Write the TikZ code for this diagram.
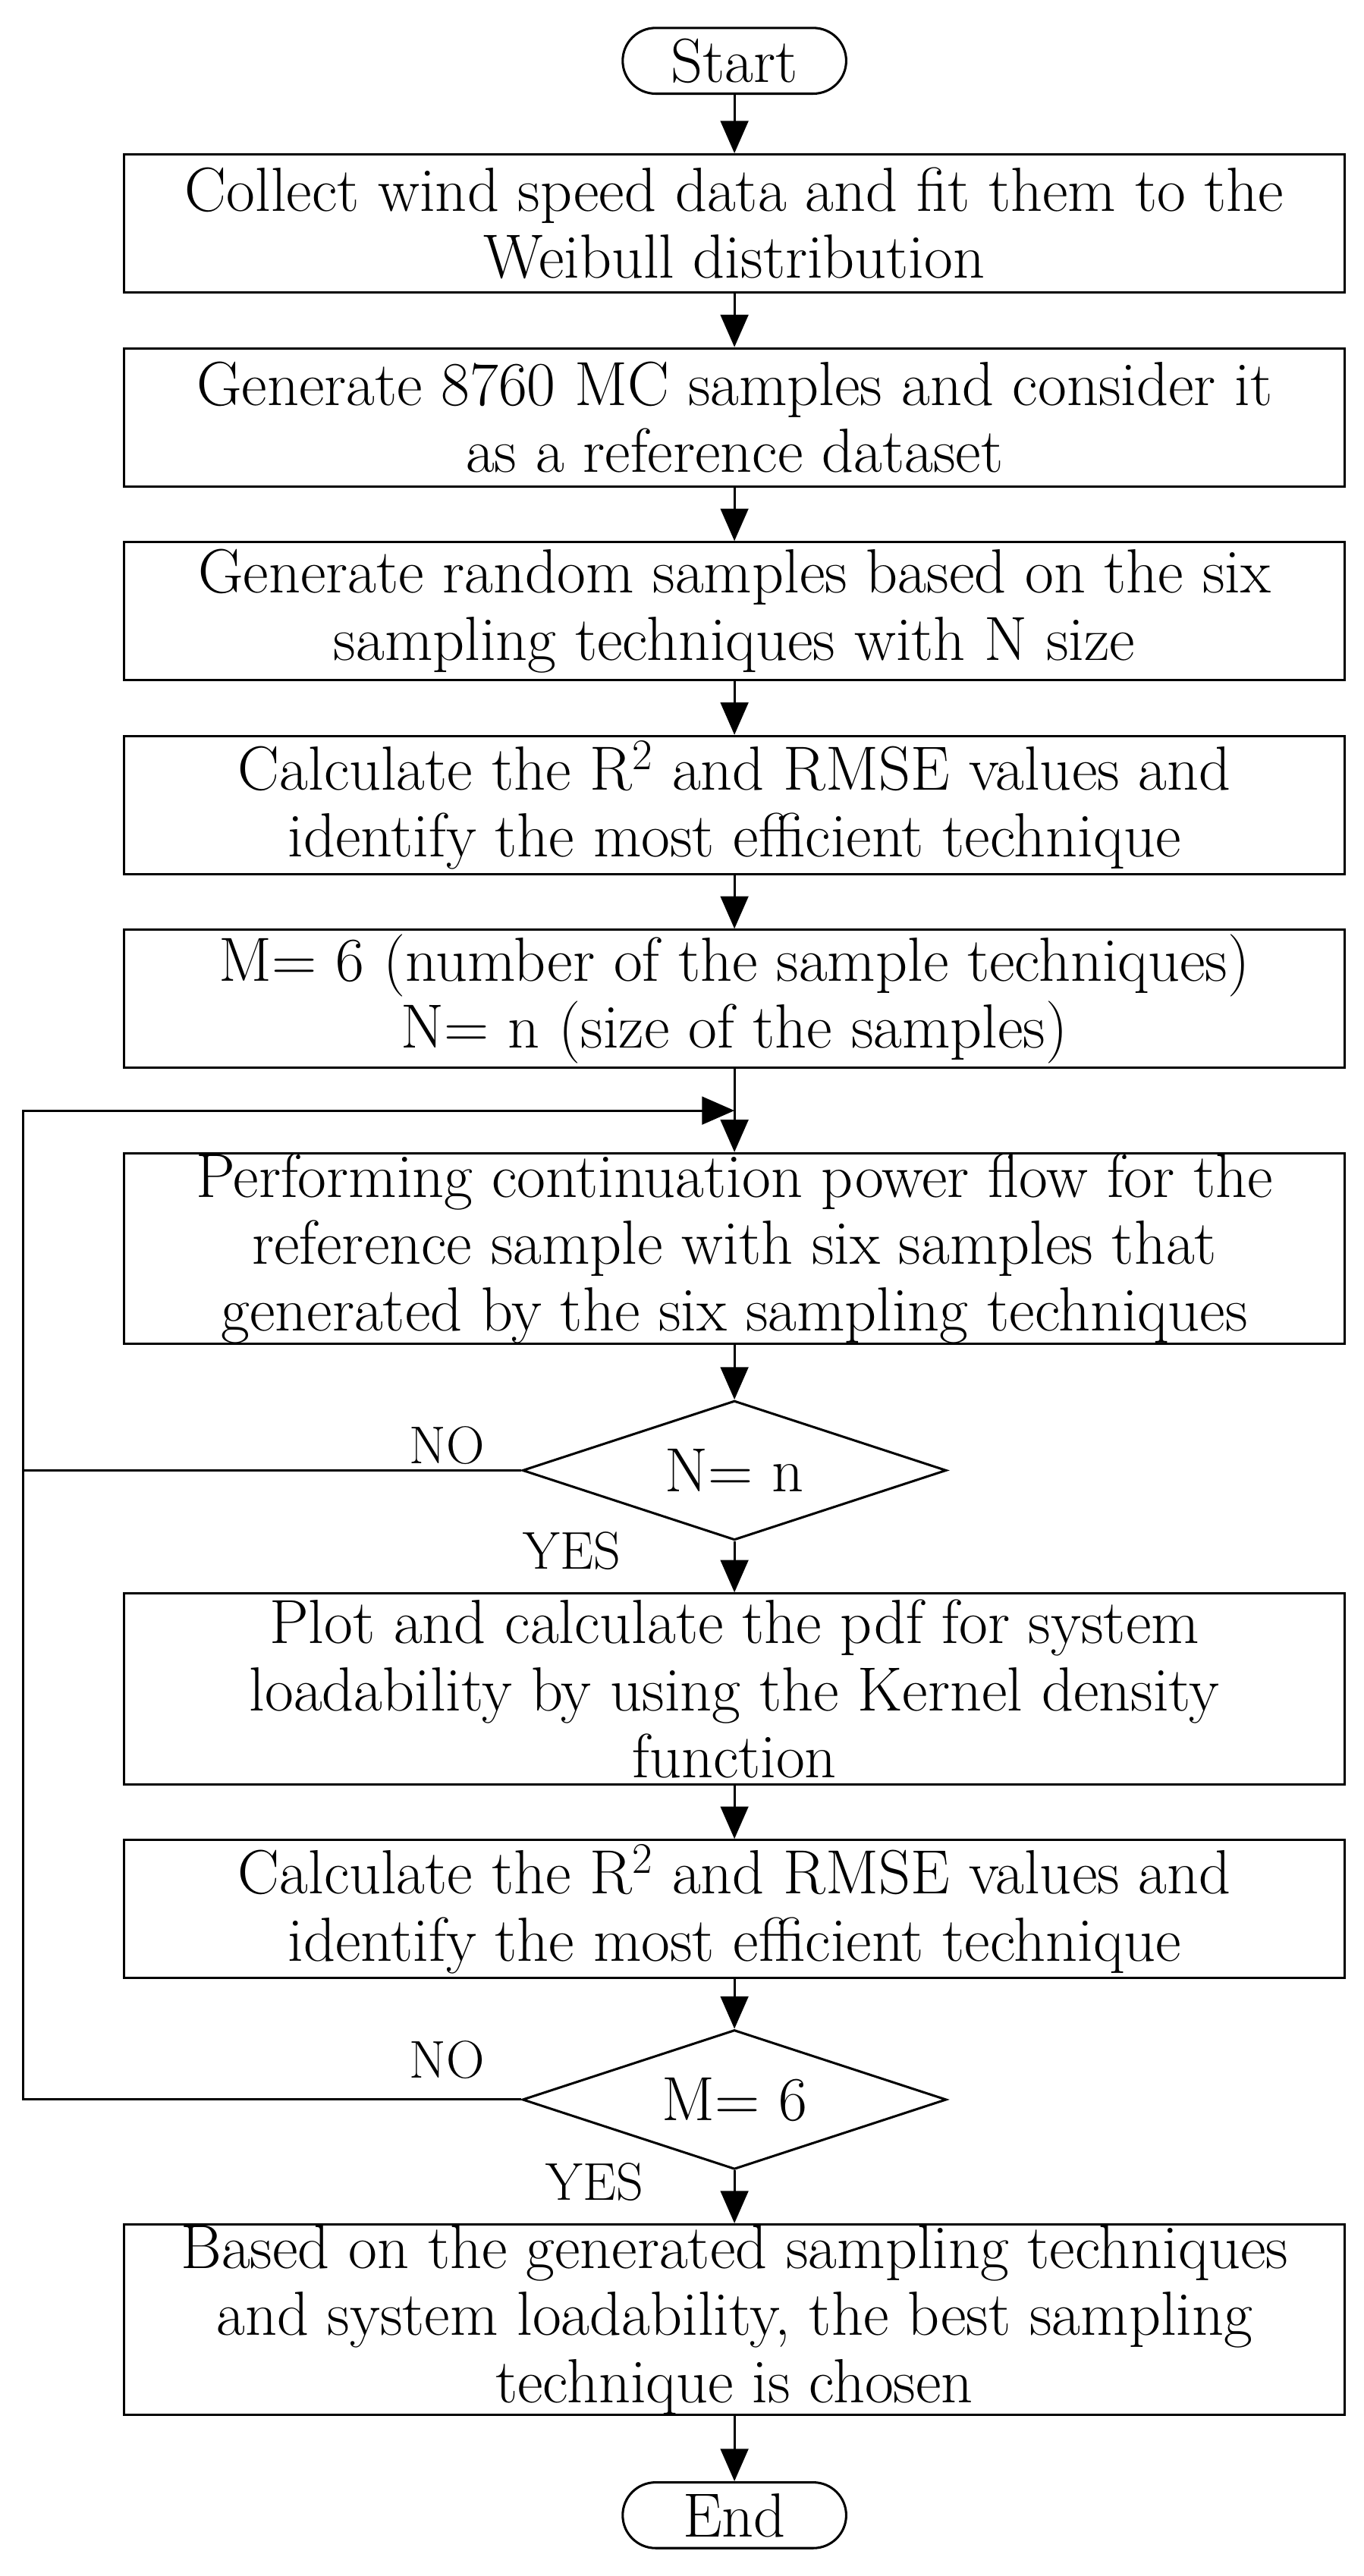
\documentclass[tikz,border=0pt]{standalone}
\usetikzlibrary{shapes.geometric,arrows.meta}
\begin{document}
\begin{tikzpicture}[x=0.025cm,y=-0.025cm,
  font=\fontsize{27}{29}\selectfont,
  >={Triangle[length=14pt,width=12pt]},
  box/.style={draw,line width=1pt,minimum width=18.575cm,align=center,inner sep=0pt},
  term/.style={draw,line width=1pt,rounded corners=0.5cm,minimum width=3.4cm,minimum height=1cm,inner sep=0pt},
  dec/.style={draw,line width=1pt,diamond,aspect=3,minimum width=6.45cm,minimum height=2.12cm,inner sep=0pt},
  lbl/.style={font=\fontsize{23}{26}\selectfont},
  line/.style={line width=1pt}]
\useasboundingbox (0,0) rectangle (830,1568);
\node[term] (start) at (447,37) {Start};
\node[box,minimum height=2.1cm] (b1) at (447,136) {Collect wind speed data and fit them to the\\ Weibull distribution};
\node[box,minimum height=2.1cm] (b2) at (447,254) {Generate 8760 MC samples and consider it\\ as a reference dataset};
\node[box,minimum height=2.1cm] (b3) at (447,372) {Generate random samples based on the six\\ sampling techniques with N size};
\node[box,minimum height=2.1cm] (b4) at (447,490) {Calculate the R\textsuperscript{2} and RMSE values and\\ identify the most efficient technique};
\node[box,minimum height=2.1cm] (b5) at (447,608) {M= 6 (number of the sample techniques)\\ N= n (size of the samples)};
\node[box,minimum height=2.9cm] (b6) at (447,760) {Performing continuation power flow for the\\ reference sample with six samples that\\ generated by the six sampling techniques};
\node[dec] (d1) at (447,895) {N= n};
\node[box,minimum height=2.9cm] (b7) at (447,1028) {Plot and calculate the pdf for system\\ loadability by using the Kernel density\\ function};
\node[box,minimum height=2.1cm] (b8) at (447,1162) {Calculate the R\textsuperscript{2} and RMSE values and\\ identify the most efficient technique};
\node[dec] (d2) at (447,1278) {M= 6};
\node[box,minimum height=2.9cm] (b9) at (447,1412) {Based on the generated sampling techniques\\ and system loadability, the best sampling\\ technique is chosen};
\node[term] (end) at (447,1531) {End};
\coordinate (loop) at (447,676);
\foreach \a/\b in {start/b1,b1/b2,b2/b3,b3/b4,b4/b5,b5/b6,b6/d1,d1/b7,b7/b8,b8/d2,d2/b9,b9/end}
  \draw[line,->] (\a) -- (\b);
\draw[line,->] (d1.west) -- (14,895) -- (14,676) -- (loop);
\draw[line] (d2.west) -- (14,1278) -- (14,895);
\node[lbl] at (272,880) {NO};
\node[lbl] at (348,944) {YES};
\node[lbl] at (272,1254) {NO};
\node[lbl] at (362,1328) {YES};
\end{tikzpicture}
\end{document}
